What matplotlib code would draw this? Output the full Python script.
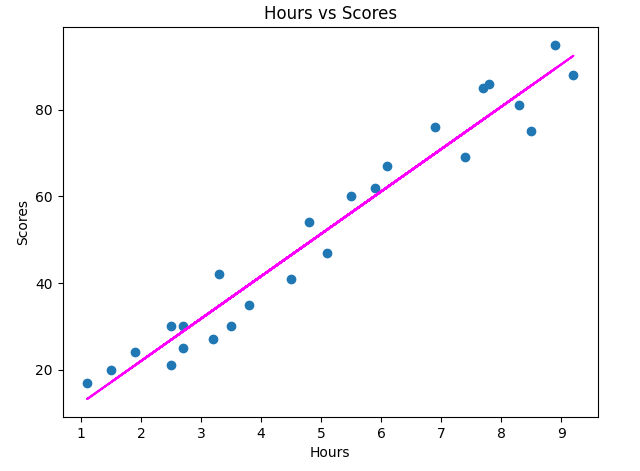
import numpy as np
import matplotlib
matplotlib.use("Agg")
import matplotlib.pyplot as plt

hours = [2.5,5.1,3.2,8.5,3.5,1.5,9.2,5.5,8.3,2.7,7.7,5.9,4.5,3.3,1.1,8.9,2.5,1.9,6.1,7.4,2.7,4.8,3.8,6.9,7.8]
scores = [21,47,27,75,30,20,88,60,81,25,85,62,41,42,17,95,30,24,67,69,30,54,35,76,86]

x = np.array(hours); y = np.array(scores)
m, b = np.polyfit(x, y, 1)

fig = plt.figure(figsize=(6.4, 4.71), dpi=100)
ax = fig.add_axes([0.098, 0.115, 0.836, 0.828])
ax.scatter(x, y, color='#1f77b4')
ax.plot(x, m*x + b, color='magenta')
ax.set_title('Hours vs Scores')
ax.set_xlabel('Hours')
ax.set_ylabel('Scores')
ax.set_yticks([20, 40, 60, 80])
fig.savefig('out.png', dpi=100)
